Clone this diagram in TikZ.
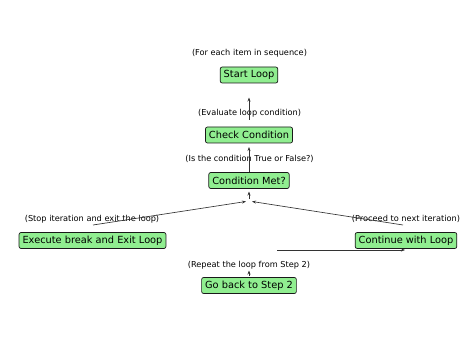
\documentclass[tikz,border=0pt]{standalone}
\usepackage{fontspec}
\setmainfont{DejaVu Sans}
\usetikzlibrary{arrows.meta,positioning}

\begin{document}
\begin{tikzpicture}[x=1pt,y=-1pt,
  stepbox/.style={draw=black!90,fill=lgreen,rounded corners=2pt,line width=0.7pt,
    font=\fontsize{9.8}{11}\selectfont,minimum height=16pt,inner xsep=3.5pt,inner ysep=2pt},
  note/.style={font=\fontsize{8.2}{9}\selectfont,inner sep=0pt},
  flow/.style={-{Stealth[length=4pt,width=3pt]},line width=0.65pt,draw=black!80}]
\definecolor{lgreen}{RGB}{144,238,144}
\useasboundingbox (0,0) rectangle (474,355);
% boxes
\node[stepbox] (start) at (249,75) {Start Loop};
\node[stepbox] (check) at (249,135) {Check Condition};
\node[stepbox] (met) at (249,180.5) {Condition Met?};
\node[stepbox] (exit) at (92.5,240.5) {Execute break and Exit Loop};
\node[stepbox] (cont) at (406,240.5) {Continue with Loop};
\node[stepbox] (back) at (249,285.5) {Go back to Step 2};
% notes
\node[note] (nfor) at (249.5,53) {(For each item in sequence)};
\node[note] (neval) at (249.5,113.5) {(Evaluate loop condition)};
\node[note] (nis) at (249.5,158.5) {(Is the condition True or False?)};
\node[note] (nstop) at (92,219) {(Stop iteration and exit the loop)};
\node[note] (nnext) at (406,219) {(Proceed to next iteration)};
\node[note] (nrep) at (249,265) {(Repeat the loop from Step 2)};
% free arrow ends
\coordinate (e1) at (249,120);  \coordinate (t1) at (249,97.5);
\coordinate (t2) at (249,147);
\coordinate (e3) at (249,199);  \coordinate (t3) at (249,191.5);
\coordinate (e4) at (93,225);   \coordinate (t4) at (246,201.5);
\coordinate (e5) at (403,225);  \coordinate (t5) at (252,201.5);
\coordinate (e6) at (277,250);  \coordinate (t6) at (405,250);
\coordinate (e7) at (249,276);  \coordinate (t7) at (249,270.5);
\draw[flow] (e1) -- (t1);
\draw[flow] (met.north) -- (t2);
\draw[flow] (e3) -- (t3);
\draw[flow] (e4) -- (t4);
\draw[flow] (e5) -- (t5);
\draw[flow] (e6) -- (t6);
\draw[flow] (e7) -- (t7);
\end{tikzpicture}
\end{document}
